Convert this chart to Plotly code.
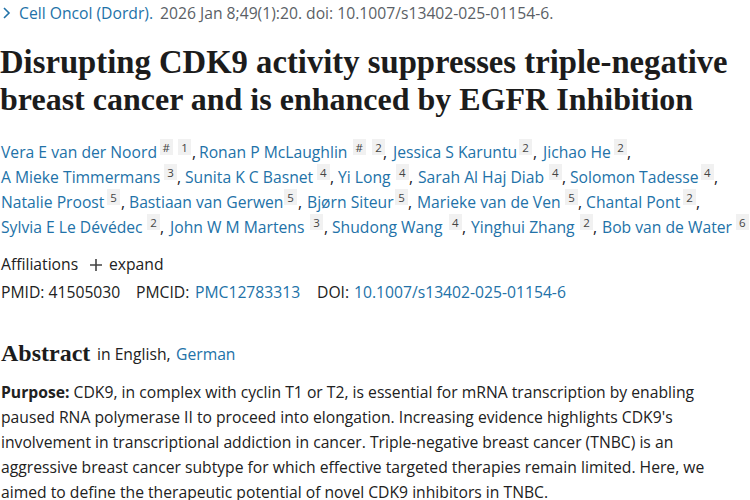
import plotly.graph_objects as go

SANS = 'Open Sans'
SERIF = 'Liberation Serif'
LINK = '#2272a8'
DARK = '#212121'
GREY = '#5b5f66'

title_lines = ['Disrupting CDK9 activity suppresses triple-negative',
               'breast cancer and is enhanced by EGFR Inhibition']
journal = 'Cell Oncol (Dordr).'
citation = '2026 Jan 8;49(1):20. doi: 10.1007/s13402-025-01154-6.'

author_rows = [
    ['Vera E van der Noord', 'Ronan P McLaughlin', 'Jessica S Karuntu', 'Jichao He'],
    ['A Mieke Timmermans', 'Sunita K C Basnet', 'Yi Long', 'Sarah Al Haj Diab', 'Solomon Tadesse'],
    ['Natalie Proost', 'Bastiaan van Gerwen', 'Bjørn Siteur', 'Marieke van de Ven', 'Chantal Pont'],
    ['Sylvia E Le Dévédec', 'John W M Martens', 'Shudong Wang', 'Yinghui Zhang', 'Bob van de Water'],
]
author_x = [
    [1, 199, 391, 541],
    [1, 185, 338, 418, 570],
    [1, 129, 307, 417, 586],
    [1, 168, 332, 471, 602],
]
mark_rows = [
    ['#', '1', '#', '2', '2', '2'],
    ['3', '4', '4', '4', '4'],
    ['5', '5', '5', '5', '2'],
    ['2', '3', '4', '2', '6'],
]
mark_x = [
    [160, 178, 353, 372, 519, 614],
    [164, 317, 396, 549, 701],
    [107, 284, 395, 565, 683],
    [147, 310, 449, 580, 736],
]
comma_x = [
    [192, 383, 533, 627],
    [177, 330, 409, 562, 714],
    [121, 298, 408, 578, 696],
    [160, 324, 462, 593],
]
row_y = [152, 177, 202, 227]

abstract_lines = [
    'CDK9, in complex with cyclin T1 or T2, is essential for mRNA transcription by enabling',
    "paused RNA polymerase II to proceed into elongation. Increasing evidence highlights CDK9's",
    'involvement in transcriptional addiction in cancer. Triple-negative breast cancer (TNBC) is an',
    'aggressive breast cancer subtype for which effective targeted therapies remain limited. Here, we',
    'aimed to define the therapeutic potential of novel CDK9 inhibitors in TNBC.',
]


def label(text, x, y, size=15.7, color=DARK, family=SANS, **kw):
    fig.add_annotation(
        text=text, x=x, y=y, xref='x', yref='y',
        xanchor='left', yanchor='middle', align='left',
        showarrow=False, borderpad=0, borderwidth=0,
        font=dict(family=family, size=size, color=color), **kw
    )


fig = go.Figure()

# chevron and plus are small drawn glyphs
fig.add_shape(type='path', path='M 4 8 L 9 13 L 4 18', line=dict(color=LINK, width=1.6))
fig.add_shape(type='path', path='M 90 265 L 102 265 M 96 259 L 96 271', line=dict(color='#444444', width=1.6))

label(journal, 19, 13, color=LINK)
label(citation, 160, 13, color=GREY)

label('<b>%s</b>' % title_lines[0], 0, 62, size=32.7, family=SERIF, color='#1c1c1c')
label('<b>%s</b>' % title_lines[1], 0, 99, size=32, family=SERIF, color='#1c1c1c')

for r in range(len(author_rows)):
    for name, x in zip(author_rows[r], author_x[r]):
        label(name, x, row_y[r], color=LINK)
    for mark, x in zip(mark_rows[r], mark_x[r]):
        fig.add_annotation(
            text=mark, x=x, y=row_y[r] - 5, xref='x', yref='y',
            xanchor='left', yanchor='middle', align='center', showarrow=False,
            width=13, height=16, bgcolor='#f1f1f1', borderpad=0, borderwidth=0,
            font=dict(family=SANS, size=11.5, color='#444444')
        )
    for x in comma_x[r]:
        label(',', x, row_y[r], color=DARK)

label('Affiliations', 1, 264)
label('expand', 109, 264)
label('PMID: 41505030', 1, 292)
label('PMCID:', 136, 292)
label('PMC12783313', 195, 292, color=LINK)
label('DOI:', 317, 292)
label('10.1007/s13402-025-01154-6', 354, 292, color=LINK)

label('<b>Abstract</b>', 1, 353, size=24, family=SERIF, color='#1c1c1c')
label('in English,', 97, 354)
label('German', 176, 354, color=LINK)

label('<b>Purpose:</b> ' + abstract_lines[0], 1, 392)
for i in range(1, len(abstract_lines)):
    label(abstract_lines[i], 1, 392 + 25 * i)

fig.update_xaxes(range=[0, 750], visible=False)
fig.update_yaxes(range=[500, 0], visible=False)
fig.update_layout(
    width=750, height=500,
    margin=dict(l=0, r=0, t=0, b=0),
    paper_bgcolor='white', plot_bgcolor='white',
    showlegend=False
)

fig.write_html(
    "out.html",
    config=dict(displayModeBar=False),
    post_script="document.body.style.margin='0';document.documentElement.style.overflow='hidden';"
)
